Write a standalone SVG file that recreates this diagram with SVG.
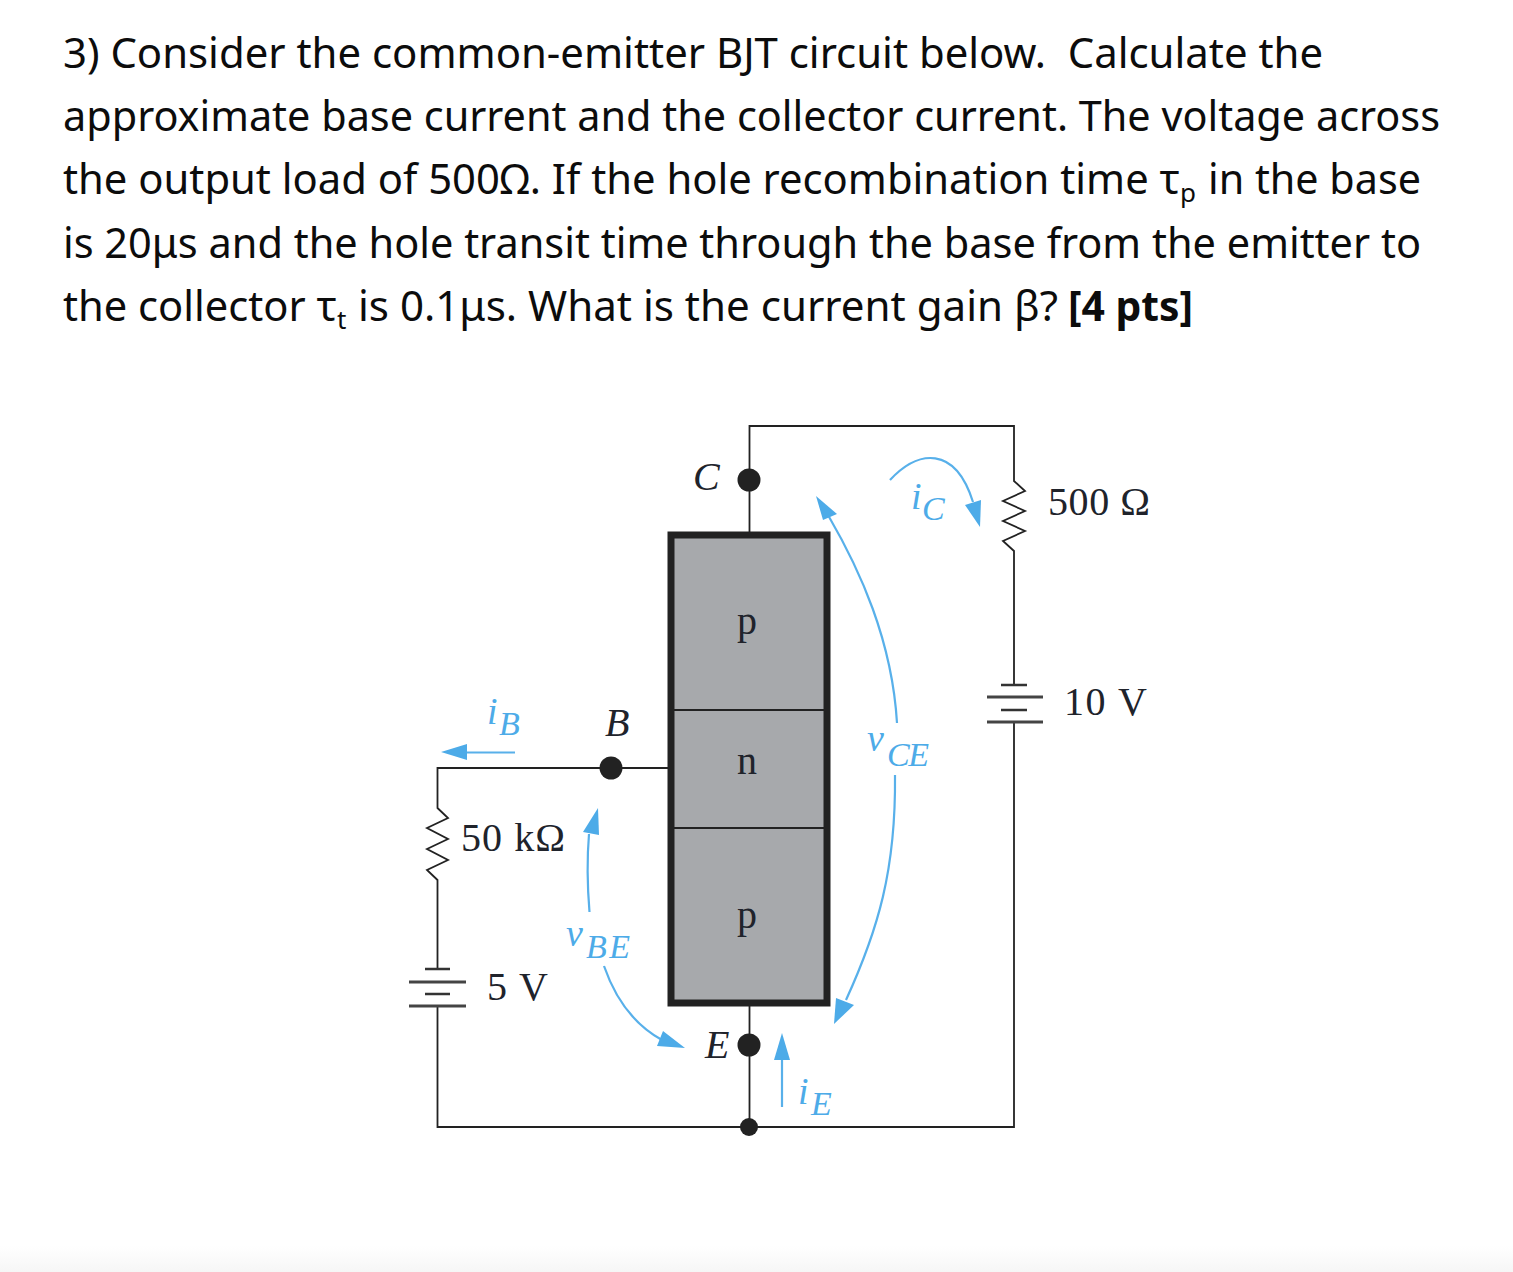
<svg xmlns="http://www.w3.org/2000/svg" width="1513" height="1272" viewBox="0 0 1513 1272">
<defs>
<linearGradient id="fade" x1="0" y1="0" x2="0" y2="1"><stop offset="0" stop-color="#ffffff"/><stop offset="1" stop-color="#f6f6f6"/></linearGradient>
</defs>
<style>
.q{font-family:"Noto Sans","Open Sans",sans-serif;font-size:41px;fill:#0c0c0c}
.s{font-size:26px}
.k{font-family:"Liberation Serif",serif;font-size:40px;fill:#20232b}
.ki{font-family:"Liberation Serif",serif;font-style:italic;font-size:40px;fill:#20232b}
.b1{font-family:"Liberation Serif",serif;font-style:italic;font-size:38px;fill:#4dabe8}
.b2{font-family:"Liberation Serif",serif;font-style:italic;font-size:34px;fill:#4dabe8}
.w{fill:none;stroke:#222;stroke-width:1.8}
.bl{fill:none;stroke:#58b0ea;stroke-width:2.2}
.hd{fill:#4dabe8}
.dot{fill:#222}
</style>
<rect width="1513" height="1272" fill="#ffffff"/>
<rect y="1246" width="1513" height="26" fill="url(#fade)"/>
<g id="question">
<text class="q" x="63" y="68" textLength="1260" lengthAdjust="spacingAndGlyphs">3) Consider the common-emitter BJT circuit below.&#160; Calculate the</text>
<text class="q" x="63" y="131" textLength="1377" lengthAdjust="spacingAndGlyphs">approximate base current and the collector current. The voltage across</text>
<text class="q" x="63" y="194" textLength="1117" lengthAdjust="spacingAndGlyphs">the output load of 500Ω. If the hole recombination time τ</text>
<text class="q s" x="1180" y="202">p</text>
<text class="q" x="1208" y="194" textLength="213" lengthAdjust="spacingAndGlyphs">in the base</text>
<text class="q" x="63" y="258" textLength="1358" lengthAdjust="spacingAndGlyphs">is 20μs and the hole transit time through the base from the emitter to</text>
<text class="q" x="63" y="321" textLength="274" lengthAdjust="spacingAndGlyphs">the collector τ</text>
<text class="q s" x="337" y="329">t</text>
<text class="q" x="358" y="321" textLength="700" lengthAdjust="spacingAndGlyphs">is 0.1μs. What is the current gain β?</text>
<text class="q" x="1068" y="321" textLength="125" lengthAdjust="spacingAndGlyphs" font-weight="700">[4 pts]</text>
</g>
<g id="connectors">
<path class="w" d="M749.500 532V426H1014V481L1025 491L1003 501L1025 511L1003 521L1025 531L1003 541L1014 551V685"/>
<path class="w" d="M1014 722V1127H437.500V1006"/>
<path class="w" d="M437.500 969V880L427 870L448 860L427 849L448 839L427 828L448 818L437.500 808V768H670"/>
<path class="w" d="M749.500 1006V1127"/>
</g>
<g id="transistor">
<rect x="671" y="535" width="156" height="468" fill="#a7a9ac" stroke="#222" stroke-width="7"/>
<path class="w" d="M674 710H824M674 828H824"/>
<text class="k" x="737" y="634">p</text>
<text class="k" x="737" y="774">n</text>
<text class="k" x="737" y="928">p</text>
</g>
<g id="node-C"><circle class="dot" cx="749" cy="480" r="11.500"/><text class="ki" x="693" y="490">C</text></g>
<g id="node-B"><circle class="dot" cx="611" cy="768" r="11.500"/><text class="ki" x="605" y="736">B</text></g>
<g id="node-E"><circle class="dot" cx="749" cy="1045" r="11.500"/><text class="ki" x="705" y="1058">E</text></g>
<g id="node-ground"><circle class="dot" cx="749" cy="1127" r="9"/></g>
<g id="resistor-500"><text class="k" x="1048" y="515" textLength="102">500 Ω</text></g>
<g id="resistor-50k"><text class="k" x="461" y="851" textLength="104">50 kΩ</text></g>
<g id="battery-10V">
<path d="M1001 685H1027M1001 710H1027" stroke="#333" stroke-width="2.600"/>
<path d="M987 697H1043M987 722H1043" stroke="#444" stroke-width="2.800"/>
<text class="k" x="1064" y="715" textLength="83">10 V</text>
</g>
<g id="battery-5V">
<path d="M425 969H450M425 994H450" stroke="#333" stroke-width="2.600"/>
<path d="M409 982H466M409 1006H466" stroke="#444" stroke-width="2.800"/>
<text class="k" x="487" y="1000" textLength="61">5 V</text>
</g>
<g id="current-iB">
<path class="bl" d="M515 752.500H465"/><path class="hd" d="M441 752L467 744V760Z"/>
<text class="b1" x="487" y="724">i</text><text class="b2" x="499" y="735">B</text>
</g>
<g id="voltage-vBE">
<path class="bl" d="M589.500 912Q586 870 589 834"/><path class="hd" d="M598 808L599 835L583 832Z"/>
<path class="bl" d="M604 966Q622 1018 662 1040"/><path class="hd" d="M685 1048L657 1046L663 1031Z"/>
<text class="b1" x="566" y="946">v</text><text class="b2" x="586" y="958" textLength="44">BE</text>
</g>
<g id="voltage-vCE">
<path class="bl" d="M897 723C892 640 860 570 828 515"/><path class="hd" d="M816 496L837 514L823 520Z"/>
<path class="bl" d="M895 775C896 870 878 930 846 1000"/><path class="hd" d="M834 1024L836 998L854 1005Z"/>
<text class="b1" x="867" y="751">v</text><text class="b2" x="887" y="766" textLength="42">CE</text>
</g>
<g id="current-iC">
<path class="bl" d="M890 480C918 450 955 445 973 502"/><path class="hd" d="M980 527L965 505L981 500Z"/>
<text class="b1" x="911" y="509">i</text><text class="b2" x="922" y="520">C</text>
</g>
<g id="current-iE">
<path class="bl" d="M782 1107V1058"/><path class="hd" d="M782 1033L790 1060H774Z"/>
<text class="b1" x="798" y="1104">i</text><text class="b2" x="811" y="1115">E</text>
</g>
</svg>
